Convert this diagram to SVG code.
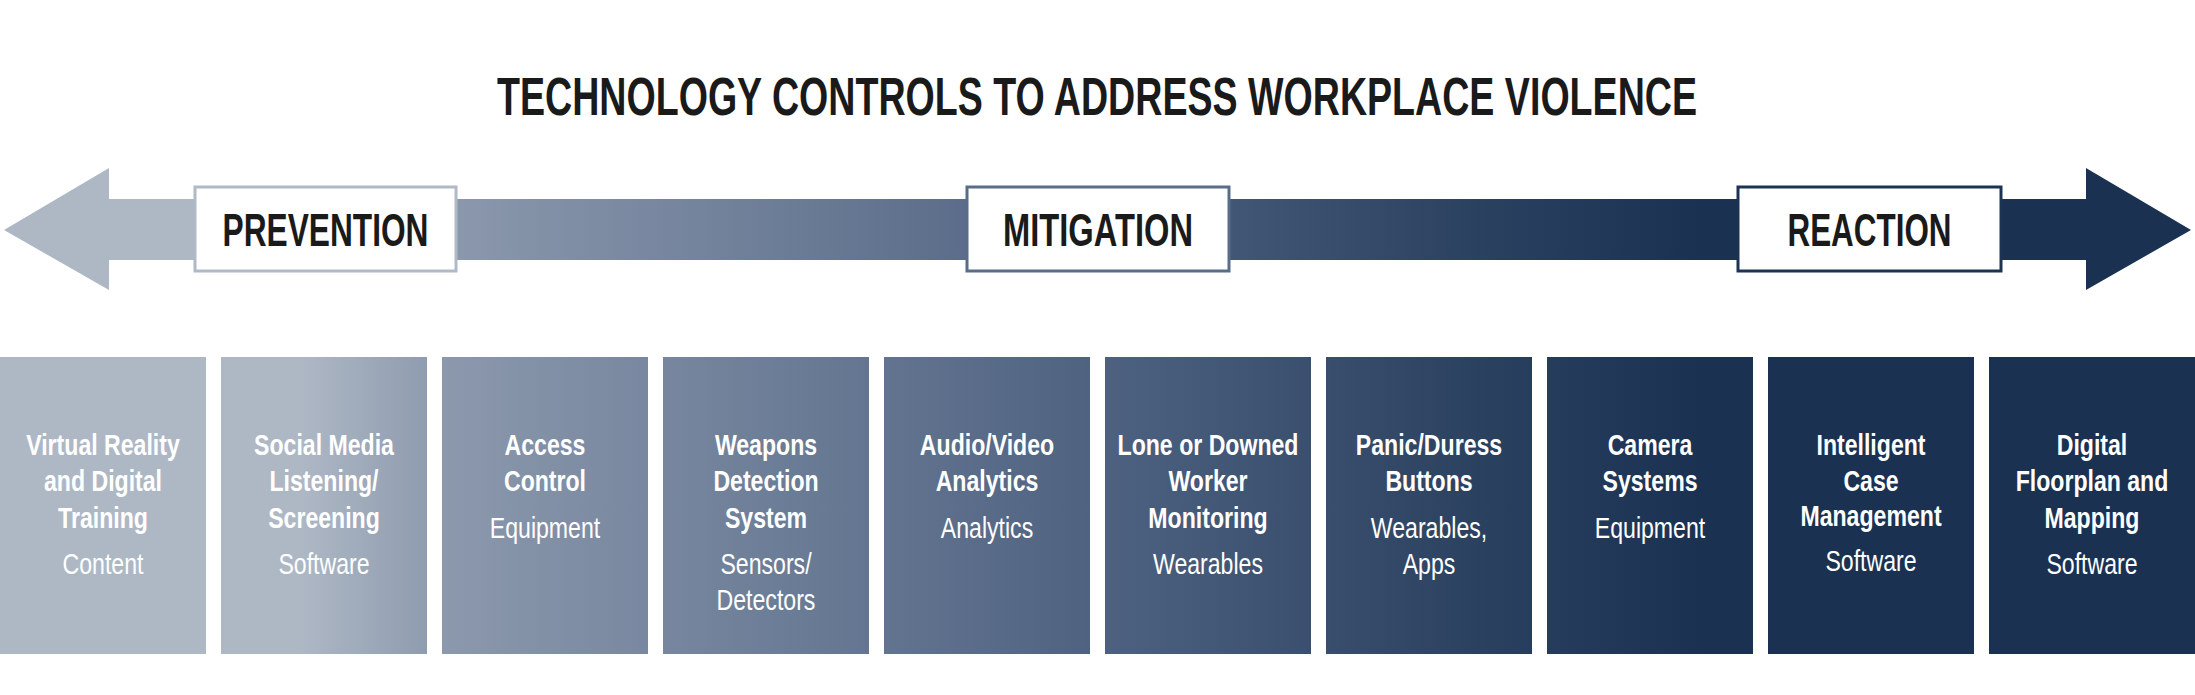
<svg xmlns="http://www.w3.org/2000/svg" width="2195" height="695" viewBox="0 0 2195 695">
<defs>
<linearGradient id="g" gradientUnits="userSpaceOnUse" x1="300" y1="0" x2="1700" y2="0">
<stop offset="0" stop-color="#aeb8c5"/><stop offset="0.1" stop-color="#8c99ad"/><stop offset="0.35" stop-color="#6b7c96"/><stop offset="0.6" stop-color="#4a5e7d"/><stop offset="0.85" stop-color="#2a405f"/><stop offset="1" stop-color="#1a3152"/>
</linearGradient>
<style>
.t{font-family:"Liberation Sans",Arial,sans-serif;fill:#fff;text-anchor:middle}
.b{font-weight:bold;font-size:30px}
.r{font-size:30px}
.lab{font-family:"Liberation Sans",Arial,sans-serif;font-weight:bold;font-size:46px;fill:#1a1a1a;text-anchor:middle}
</style>
</defs>
<rect width="2195" height="695" fill="#fff"/>
<text x="1097" y="115" class="lab" font-size="53" textLength="1200" lengthAdjust="spacingAndGlyphs" style="font-size:53px">TECHNOLOGY CONTROLS TO ADDRESS WORKPLACE VIOLENCE</text>
<g id="arrow">
<rect x="105" y="199" width="1985" height="61" fill="url(#g)"/>
<polygon points="4,230 109,168 109,290" fill="#aeb8c5"/>
<polygon points="2191,230 2086,168 2086,290" fill="#1a3152"/>
</g>
<g id="prevention"><rect x="195" y="187" width="261" height="84" fill="#fff" stroke="#b0bac6" stroke-width="3"/><text x="325.5" y="246" class="lab" textLength="206" lengthAdjust="spacingAndGlyphs">PREVENTION</text></g>
<g id="mitigation"><rect x="967" y="187" width="262" height="84" fill="#fff" stroke="#5a6d88" stroke-width="3"/><text x="1098" y="246" class="lab" textLength="190" lengthAdjust="spacingAndGlyphs">MITIGATION</text></g>
<g id="reaction"><rect x="1738" y="187" width="263" height="84" fill="#fff" stroke="#1d3352" stroke-width="3"/><text x="1869.5" y="246" class="lab" textLength="164" lengthAdjust="spacingAndGlyphs">REACTION</text></g>
<g id="cards" fill="url(#g)">
<rect x="0" y="357" width="206" height="297" fill="#aeb8c5"/>
<rect x="221" y="357" width="206" height="297"/>
<rect x="442" y="357" width="206" height="297"/>
<rect x="663" y="357" width="206" height="297"/>
<rect x="884" y="357" width="206" height="297"/>
<rect x="1105" y="357" width="206" height="297"/>
<rect x="1326" y="357" width="206" height="297"/>
<rect x="1547" y="357" width="206" height="297"/>
<rect x="1768" y="357" width="206" height="297"/>
<rect x="1989" y="357" width="206" height="297" fill="#1a3152"/>
</g>
<g id="c1" class="t" transform="translate(103,0) scale(0.77,1)"><text class="t b" y="455">Virtual Reality</text><text class="t b" y="491">and Digital</text><text class="t b" y="528">Training</text><text class="t r" y="574">Content</text></g>
<g id="c2" transform="translate(324,0) scale(0.77,1)"><text class="t b" y="455">Social Media</text><text class="t b" y="491">Listening/</text><text class="t b" y="528">Screening</text><text class="t r" y="574">Software</text></g>
<g id="c3" transform="translate(545,0) scale(0.77,1)"><text class="t b" y="455">Access</text><text class="t b" y="491">Control</text><text class="t r" y="538">Equipment</text></g>
<g id="c4" transform="translate(766,0) scale(0.77,1)"><text class="t b" y="455">Weapons</text><text class="t b" y="491">Detection</text><text class="t b" y="528">System</text><text class="t r" y="574">Sensors/</text><text class="t r" y="610">Detectors</text></g>
<g id="c5" transform="translate(987,0) scale(0.77,1)"><text class="t b" y="455">Audio/Video</text><text class="t b" y="491">Analytics</text><text class="t r" y="538">Analytics</text></g>
<g id="c6" transform="translate(1208,0) scale(0.77,1)"><text class="t b" y="455">Lone or Downed</text><text class="t b" y="491">Worker</text><text class="t b" y="528">Monitoring</text><text class="t r" y="574">Wearables</text></g>
<g id="c7" transform="translate(1429,0) scale(0.77,1)"><text class="t b" y="455">Panic/Duress</text><text class="t b" y="491">Buttons</text><text class="t r" y="538">Wearables,</text><text class="t r" y="574">Apps</text></g>
<g id="c8" transform="translate(1650,0) scale(0.77,1)"><text class="t b" y="455">Camera</text><text class="t b" y="491">Systems</text><text class="t r" y="538">Equipment</text></g>
<g id="c9" transform="translate(1871,0) scale(0.77,1)"><text class="t b" y="455">Intelligent</text><text class="t b" y="491">Case</text><text class="t b" y="526">Management</text><text class="t r" y="571">Software</text></g>
<g id="c10" transform="translate(2092,0) scale(0.77,1)"><text class="t b" y="455">Digital</text><text class="t b" y="491">Floorplan and</text><text class="t b" y="528">Mapping</text><text class="t r" y="574">Software</text></g>
</svg>
